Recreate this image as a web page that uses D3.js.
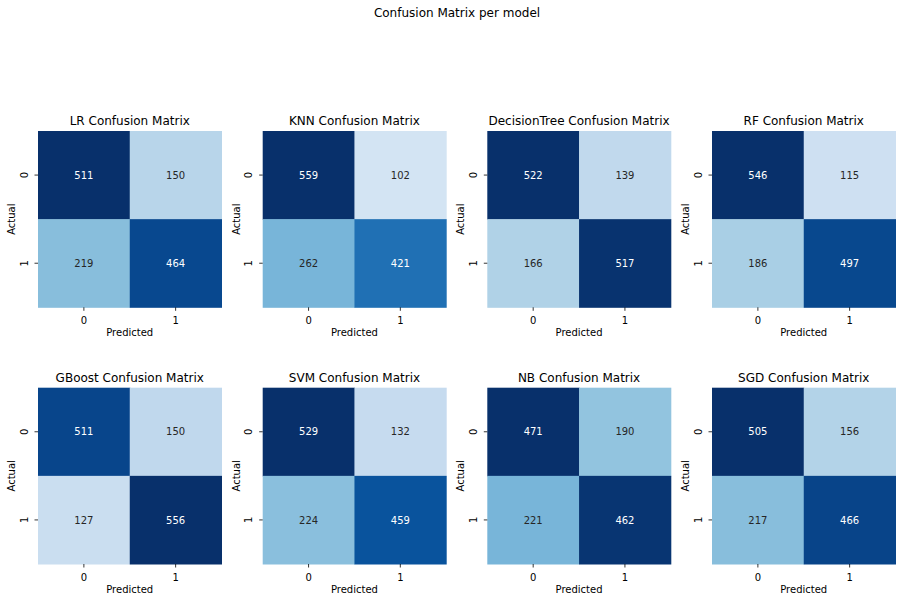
<!DOCTYPE html>
<html>
<head>
<meta charset="utf-8">
<script src="https://cdn.jsdelivr.net/npm/d3@7"></script>
<style>
  html, body { margin: 0; padding: 0; background: #fff; }
  svg { display: block; font-family: "DejaVu Sans", sans-serif; }
</style>
</head>
<body>
<svg id="chart" width="902" height="603"></svg>
<script>
// ---- Data ----
const models = ["LR", "KNN", "DecisionTree", "RF", "GBoost", "SVM", "NB", "SGD"];
const trueNeg  = [511, 559, 522, 546, 511, 529, 471, 505]; // actual 0, predicted 0
const falsePos = [150, 102, 139, 115, 150, 132, 190, 156]; // actual 0, predicted 1
const falseNeg = [219, 262, 166, 186, 127, 224, 221, 217]; // actual 1, predicted 0
const truePos  = [464, 421, 517, 497, 556, 459, 462, 466]; // actual 1, predicted 1
const classLabels = ["0", "1"];
const suptitle = "Confusion Matrix per model";

// ---- Layout ----
const svg = d3.select("#chart");
const colX = [38, 262.7, 487.3, 712];
const rowY = [131, 387.7];
const panelW = 183.5, panelH = 176.3;

// matplotlib "Blues" colormap stops
const bluesStops = ["#f7fbff", "#deebf7", "#c6dbef", "#9ecae1", "#6baed6",
                    "#4292c6", "#2171b5", "#08519c", "#08306b"];

function relLum(c) {
  const rgb = d3.rgb(c);
  const lin = [rgb.r, rgb.g, rgb.b].map(v => {
    v = v / 255;
    return v <= 0.03928 ? v / 12.92 : Math.pow((v + 0.055) / 1.055, 2.4);
  });
  return 0.2126 * lin[0] + 0.7152 * lin[1] + 0.0722 * lin[2];
}

svg.append("text")
  .attr("x", 457).attr("y", 17)
  .attr("text-anchor", "middle")
  .attr("font-size", 12)
  .attr("fill", "#000")
  .text(suptitle);

models.forEach((m, i) => {
  const left = colX[i % 4];
  const top = rowY[Math.floor(i / 4)];
  const g = svg.append("g").attr("transform", `translate(${left},${top})`);

  const cells = [
    {a: "0", p: "0", v: trueNeg[i]},
    {a: "0", p: "1", v: falsePos[i]},
    {a: "1", p: "0", v: falseNeg[i]},
    {a: "1", p: "1", v: truePos[i]}
  ];
  const vmax = d3.max(cells, d => d.v);
  const color = d3.scaleLinear()
    .domain(bluesStops.map((_, k) => k / (bluesStops.length - 1) * vmax))
    .range(bluesStops)
    .interpolate(d3.interpolateRgb)
    .clamp(true);

  const x = d3.scaleBand().domain(classLabels).range([0, panelW]);
  const y = d3.scaleBand().domain(classLabels).range([0, panelH]);

  g.selectAll("rect.cell").data(cells).join("rect")
    .attr("class", "cell")
    .attr("x", d => x(d.p))
    .attr("y", d => y(d.a))
    .attr("width", x.bandwidth() + 0.5)
    .attr("height", y.bandwidth() + 0.5)
    .attr("fill", d => color(d.v));

  g.selectAll("text.annot").data(cells).join("text")
    .attr("class", "annot")
    .attr("x", d => x(d.p) + x.bandwidth() / 2)
    .attr("y", d => y(d.a) + y.bandwidth() / 2)
    .attr("dy", "0.36em")
    .attr("text-anchor", "middle")
    .attr("font-size", 10)
    .attr("fill", d => relLum(color(d.v)) > 0.408 ? "#262626" : "#ffffff")
    .text(d => d.v);

  // x axis ticks
  const xa = g.append("g").attr("transform", `translate(0,${panelH})`);
  classLabels.forEach(c => {
    const cx = x(c) + x.bandwidth() / 2;
    xa.append("line").attr("x1", cx).attr("x2", cx).attr("y1", 0).attr("y2", 3.5)
      .attr("stroke", "#000").attr("stroke-width", 0.8);
    xa.append("text").attr("x", cx).attr("y", 17)
      .attr("text-anchor", "middle").attr("font-size", 10).attr("fill", "#000")
      .text(c);
  });
  xa.append("text").attr("x", panelW / 2).attr("y", 29)
    .attr("text-anchor", "middle").attr("font-size", 10).attr("fill", "#000")
    .text("Predicted");

  // y axis ticks
  const ya = g.append("g");
  classLabels.forEach(c => {
    const cy = y(c) + y.bandwidth() / 2;
    ya.append("line").attr("x1", -3.5).attr("x2", 0).attr("y1", cy).attr("y2", cy)
      .attr("stroke", "#000").attr("stroke-width", 0.8);
    ya.append("text")
      .attr("transform", `translate(-10.5,${cy}) rotate(-90)`)
      .attr("text-anchor", "middle").attr("font-size", 10).attr("fill", "#000")
      .text(c);
  });
  ya.append("text")
    .attr("transform", `translate(-23,${panelH / 2}) rotate(-90)`)
    .attr("text-anchor", "middle").attr("font-size", 10).attr("fill", "#000")
    .text("Actual");

  g.append("text")
    .attr("x", panelW / 2).attr("y", -6)
    .attr("text-anchor", "middle").attr("font-size", 12).attr("fill", "#000")
    .text(`${m} Confusion Matrix`);
});
</script>
</body>
</html>
